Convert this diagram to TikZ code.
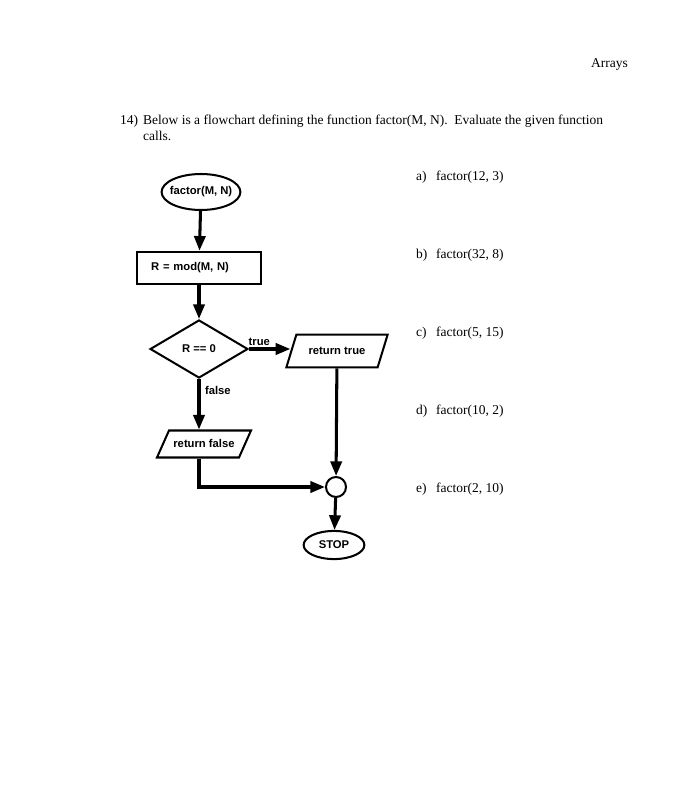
\documentclass[tikz,border=0pt]{standalone}
\usepackage{fontspec}
\setmainfont{Liberation Serif}
\setsansfont{Liberation Sans}
\usetikzlibrary{shapes.geometric, positioning, arrows.meta}

\begin{document}
\begin{tikzpicture}[x=0.889pt,y=-0.889pt,
    every node/.style={font=\fontsize{10}{12}\sffamily\bfseries},
    box/.style={draw,line width=1.8pt,inner sep=0pt},
    oval/.style={box,ellipse,inner xsep=-3pt},
    io/.style={box,trapezium,trapezium stretches body=true,text height=7.5pt,text depth=2pt},
    flow/.style={line width=2.7pt,-{Triangle[length=13pt,width=10pt]}},
    doc/.style={font=\fontsize{12}{14}\selectfont,inner sep=0pt}]
\useasboundingbox (0,0) rectangle (689,801);

% page text
\node[doc,anchor=base east] (title) at (628,68) {Arrays};
\node[doc,anchor=north west] (num) at (120,115) {14)};
\node[doc,anchor=north west,align=left] (task) at (143,115)
    {Below is a flowchart defining the function factor(M, N).\ \ Evaluate the given function\\calls.};
\foreach \lbl/\call [count=\i from 0] in {a/{12, 3}, b/{32, 8}, c/{5, 15}, d/{10, 2}, e/{2, 10}}
{
    \node[doc,anchor=base west] (q\lbl) at (416,181+77.75*\i) {\lbl)};
    \node[doc,anchor=base west] (call\lbl) at (436,181+77.75*\i) {factor(\call)};
}

% flowchart
\node[oval,minimum width=69pt,minimum height=32pt] (start) at (201,192) {factor(M, N)};
\node[box,minimum width=110pt,minimum height=29pt,text width=85pt,align=left] (calc) at (199,268) {R = mod(M, N)};
\node[box,diamond,minimum width=87pt,minimum height=51.6pt] (test) at (199,349) {R == 0};
\node[io,trapezium left angle=73,trapezium right angle=107,inner ysep=9.75pt,minimum width=90pt] (rtrue) at (337,351) {return true};
\node[io,trapezium left angle=66,trapezium right angle=114,inner ysep=7.25pt,minimum width=83.6pt] (rfalse) at (204,444) {return false};
\node[box,circle,minimum size=17.8pt] (join) at (336,487) {};
\node[oval,minimum width=54pt,minimum height=25pt] (stop) at (334,545) {STOP};

\path[flow]
(start) edge (calc)
(calc) edge (test)
(test.east) edge node [above,pos=.25,inner sep=2pt] {true} (test.east -| rtrue.west)
(test) edge node [right,pos=.22,inner sep=4pt] {false} (test |- rfalse.north)
(rtrue) edge (join)
(rfalse.south -| test) edge [to path={|- (\tikztotarget)}] (join)
(join) edge (stop);
\end{tikzpicture}
\end{document}
